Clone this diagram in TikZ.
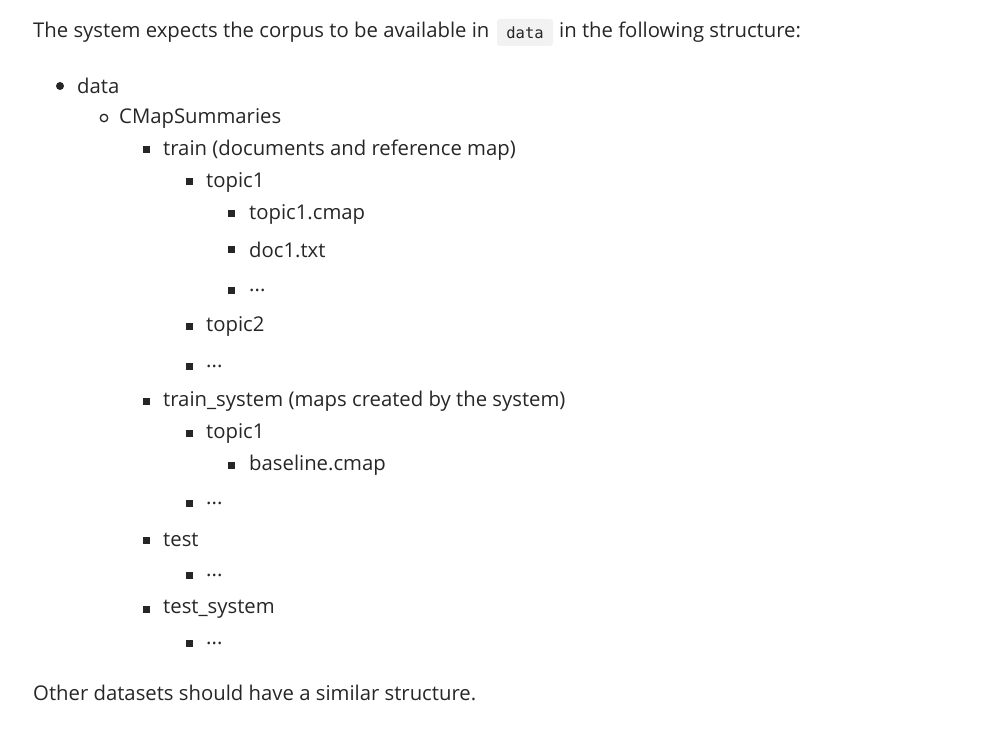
\documentclass[tikz,border=0pt]{standalone}
\usepackage{fontspec}
\setmainfont{Open Sans}
\setmonofont{DejaVu Sans Mono}
\begin{document}
\begin{tikzpicture}[x=1pt,y=-1pt,
  txt/.style={anchor=west,inner sep=0pt,font=\fontsize{20.3}{24}\selectfont,text=black!85},
  sq/.style={fill=black!85,minimum size=7pt,inner sep=0pt},
  dot/.style={circle,fill=black!85,minimum size=8pt,inner sep=0pt},
  odot/.style={circle,draw=black!85,line width=1.3pt,minimum size=7.5pt,inner sep=0pt}]
\useasboundingbox (0,0) rectangle (982,751);
\node[txt] (l1) at (33,32) {The system expects the corpus to be available in};
\fill[black!5,rounded corners=3pt] (497,19) rectangle (553,46);
\node[anchor=center,inner sep=0pt,font=\ttfamily\fontsize{15.5}{17}\selectfont,text=black!85] (code) at (525,33) {data};
\node[txt] (l1b) at (559,32) {in the following structure:};
\node[dot] (b1) at (60,86) {}; \node[txt] (t1) at (77,86) {data};
\node[odot] (b2) at (104,118) {}; \node[txt] (t2) at (119,118) {CMapSummaries};
\node[sq] (b3) at (146,150) {}; \node[txt] (t3) at (163,150) {train (documents and reference map)};
\node[sq] (b4) at (189,182) {}; \node[txt] (t4) at (206,182) {topic1};
\node[sq] (b5) at (231,214) {}; \node[txt] (t5) at (249,214) {topic1.cmap};
\node[sq] (b6) at (231,250) {}; \node[txt] (t6) at (249,250) {doc1.txt};
\node[sq] (b7) at (231,290) {}; \node[txt] (t7) at (249,290) {...};
\node[sq] (b8) at (189,326) {}; \node[txt] (t8) at (206,326) {topic2};
\node[sq] (b9) at (189,366) {}; \node[txt] (t9) at (206,366) {...};
\node[sq] (b10) at (146,401) {}; \node[txt] (t10) at (163,401) {train\_system (maps created by the system)};
\node[sq] (b11) at (189,433) {}; \node[txt] (t11) at (206,433) {topic1};
\node[sq] (b12) at (231,465) {}; \node[txt] (t12) at (249,465) {baseline.cmap};
\node[sq] (b13) at (189,503) {}; \node[txt] (t13) at (206,503) {...};
\node[sq] (b14) at (146,540) {}; \node[txt] (t14) at (163,540) {test};
\node[sq] (b15) at (189,575) {}; \node[txt] (t15) at (206,575) {...};
\node[sq] (b16) at (146,609) {}; \node[txt] (t16) at (163,609) {test\_system};
\node[sq] (b17) at (189,643) {}; \node[txt] (t17) at (206,643) {...};
\node[txt] (last) at (33,693) {Other datasets should have a similar structure.};
\end{tikzpicture}
\end{document}
